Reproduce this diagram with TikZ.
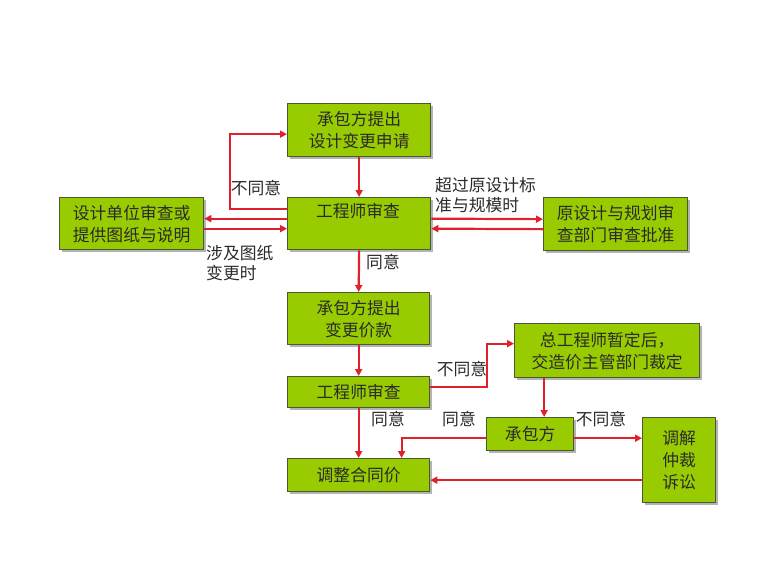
\documentclass[tikz,border=0pt]{standalone}
\usepackage{fontspec}
\setmainfont{Noto Sans CJK SC}
\usetikzlibrary{arrows.meta,shadows}
\definecolor{boxgreen}{HTML}{99CC00}
\definecolor{boxedge}{HTML}{4A5A30}
\definecolor{linered}{HTML}{E0202A}
\definecolor{txt}{HTML}{2A2A2A}
\begin{document}
\begin{tikzpicture}[x=1pt,y=-1pt,
  box/.style={draw=boxedge, line width=1.3pt, fill=boxgreen,
    drop shadow={shadow xshift=2.5pt, shadow yshift=-2.5pt, fill=black!50, opacity=0.6},
    inner sep=0pt, anchor=north west, text=txt, align=center,
    font=\fontsize{16.8}{22}\selectfont},
  lbl/.style={text=txt, inner sep=0pt, align=left, font=\fontsize{16.8}{20}\selectfont},
  arr/.style={draw=linered, line width=2.2pt, -{Triangle[length=7pt,width=7pt]}}]
\useasboundingbox (0,0) rectangle (760,566);

% boxes
\node[box, minimum width=143pt, minimum height=53pt] (A) at (287,103) {承包方提出\\设计变更申请};
\node[box, minimum width=143pt, minimum height=52pt] (B) at (287,197) {};
\node[text=txt, inner sep=0pt, font=\fontsize{16.8}{22}\selectfont] (Bt) at (358,211) {工程师审查};
\node[box, minimum width=144pt, minimum height=52pt] (C) at (59,197) {设计单位审查或\\提供图纸与说明};
\node[box, minimum width=144pt, minimum height=53pt] (D) at (543,197) {原设计与规划审\\查部门审查批准};
\node[box, minimum width=142pt, minimum height=52pt] (E) at (287,292) {承包方提出\\变更价款};
\node[box, minimum width=142pt, minimum height=31pt] (F) at (287,376) {工程师审查};
\node[box, minimum width=185pt, minimum height=54pt] (G) at (514,323) {总工程师暂定后，\\交造价主管部门裁定};
\node[box, minimum width=87pt, minimum height=33pt] (H) at (486,417) {承包方};
\node[box, minimum width=73pt, minimum height=85pt] (I) at (642,417) {调解\\仲裁\\诉讼};
\node[box, minimum width=142pt, minimum height=33pt] (J) at (287,458) {调整合同价};

% connectors
\draw[arr] (A.south) -- (B.north);
\draw[arr] ([yshift=15pt]B.west) -- ++(-57,0) |- ([yshift=-4pt]A.west);
\draw[arr] ([yshift=5pt]B.west) -- ([yshift=5pt]C.east);
\draw[arr] ([yshift=-5pt]C.east) -- ([yshift=-5pt]B.west);
\draw[arr] ([yshift=5pt]B.east) -- ([yshift=5pt]D.west);
\draw[arr] ([yshift=-5pt]D.west) -- ([yshift=-5pt]B.east);
\draw[arr] (B.south) -- (E.north);
\draw[arr] (E.south) -- (F.north);
\draw[arr] ([yshift=5pt]F.east) -- ++(57,0) |- ([yshift=7pt]G.west);
\draw[arr] ([xshift=-63pt]G.south) -- ([xshift=-63pt]G.south |- H.north);
\draw[arr] ([yshift=-4pt]H.east) -- ([yshift=-4pt]H.east -| I.west);
\draw[arr] ([yshift=-4pt]H.west) -| ([xshift=43pt]J.north);
\draw[arr] (F.south) -- (J.north);
\draw[arr] ([yshift=-20pt]I.west) -- ([yshift=-20pt]I.west -| J.east);

% labels
\node[lbl] (l1) at (256,188) {不同意};
\node[lbl, anchor=north west] (l2) at (206,245) {涉及图纸\\变更时};
\node[lbl] (l3) at (383,262) {同意};
\node[lbl, anchor=north west] (l4) at (435,177) {超过原设计标\\准与规模时};
\node[lbl] (l5) at (462,369) {不同意};
\node[lbl] (l6) at (388,419) {同意};
\node[lbl] (l7) at (459,419) {同意};
\node[lbl] (l8) at (601,419) {不同意};
\end{tikzpicture}
\end{document}
